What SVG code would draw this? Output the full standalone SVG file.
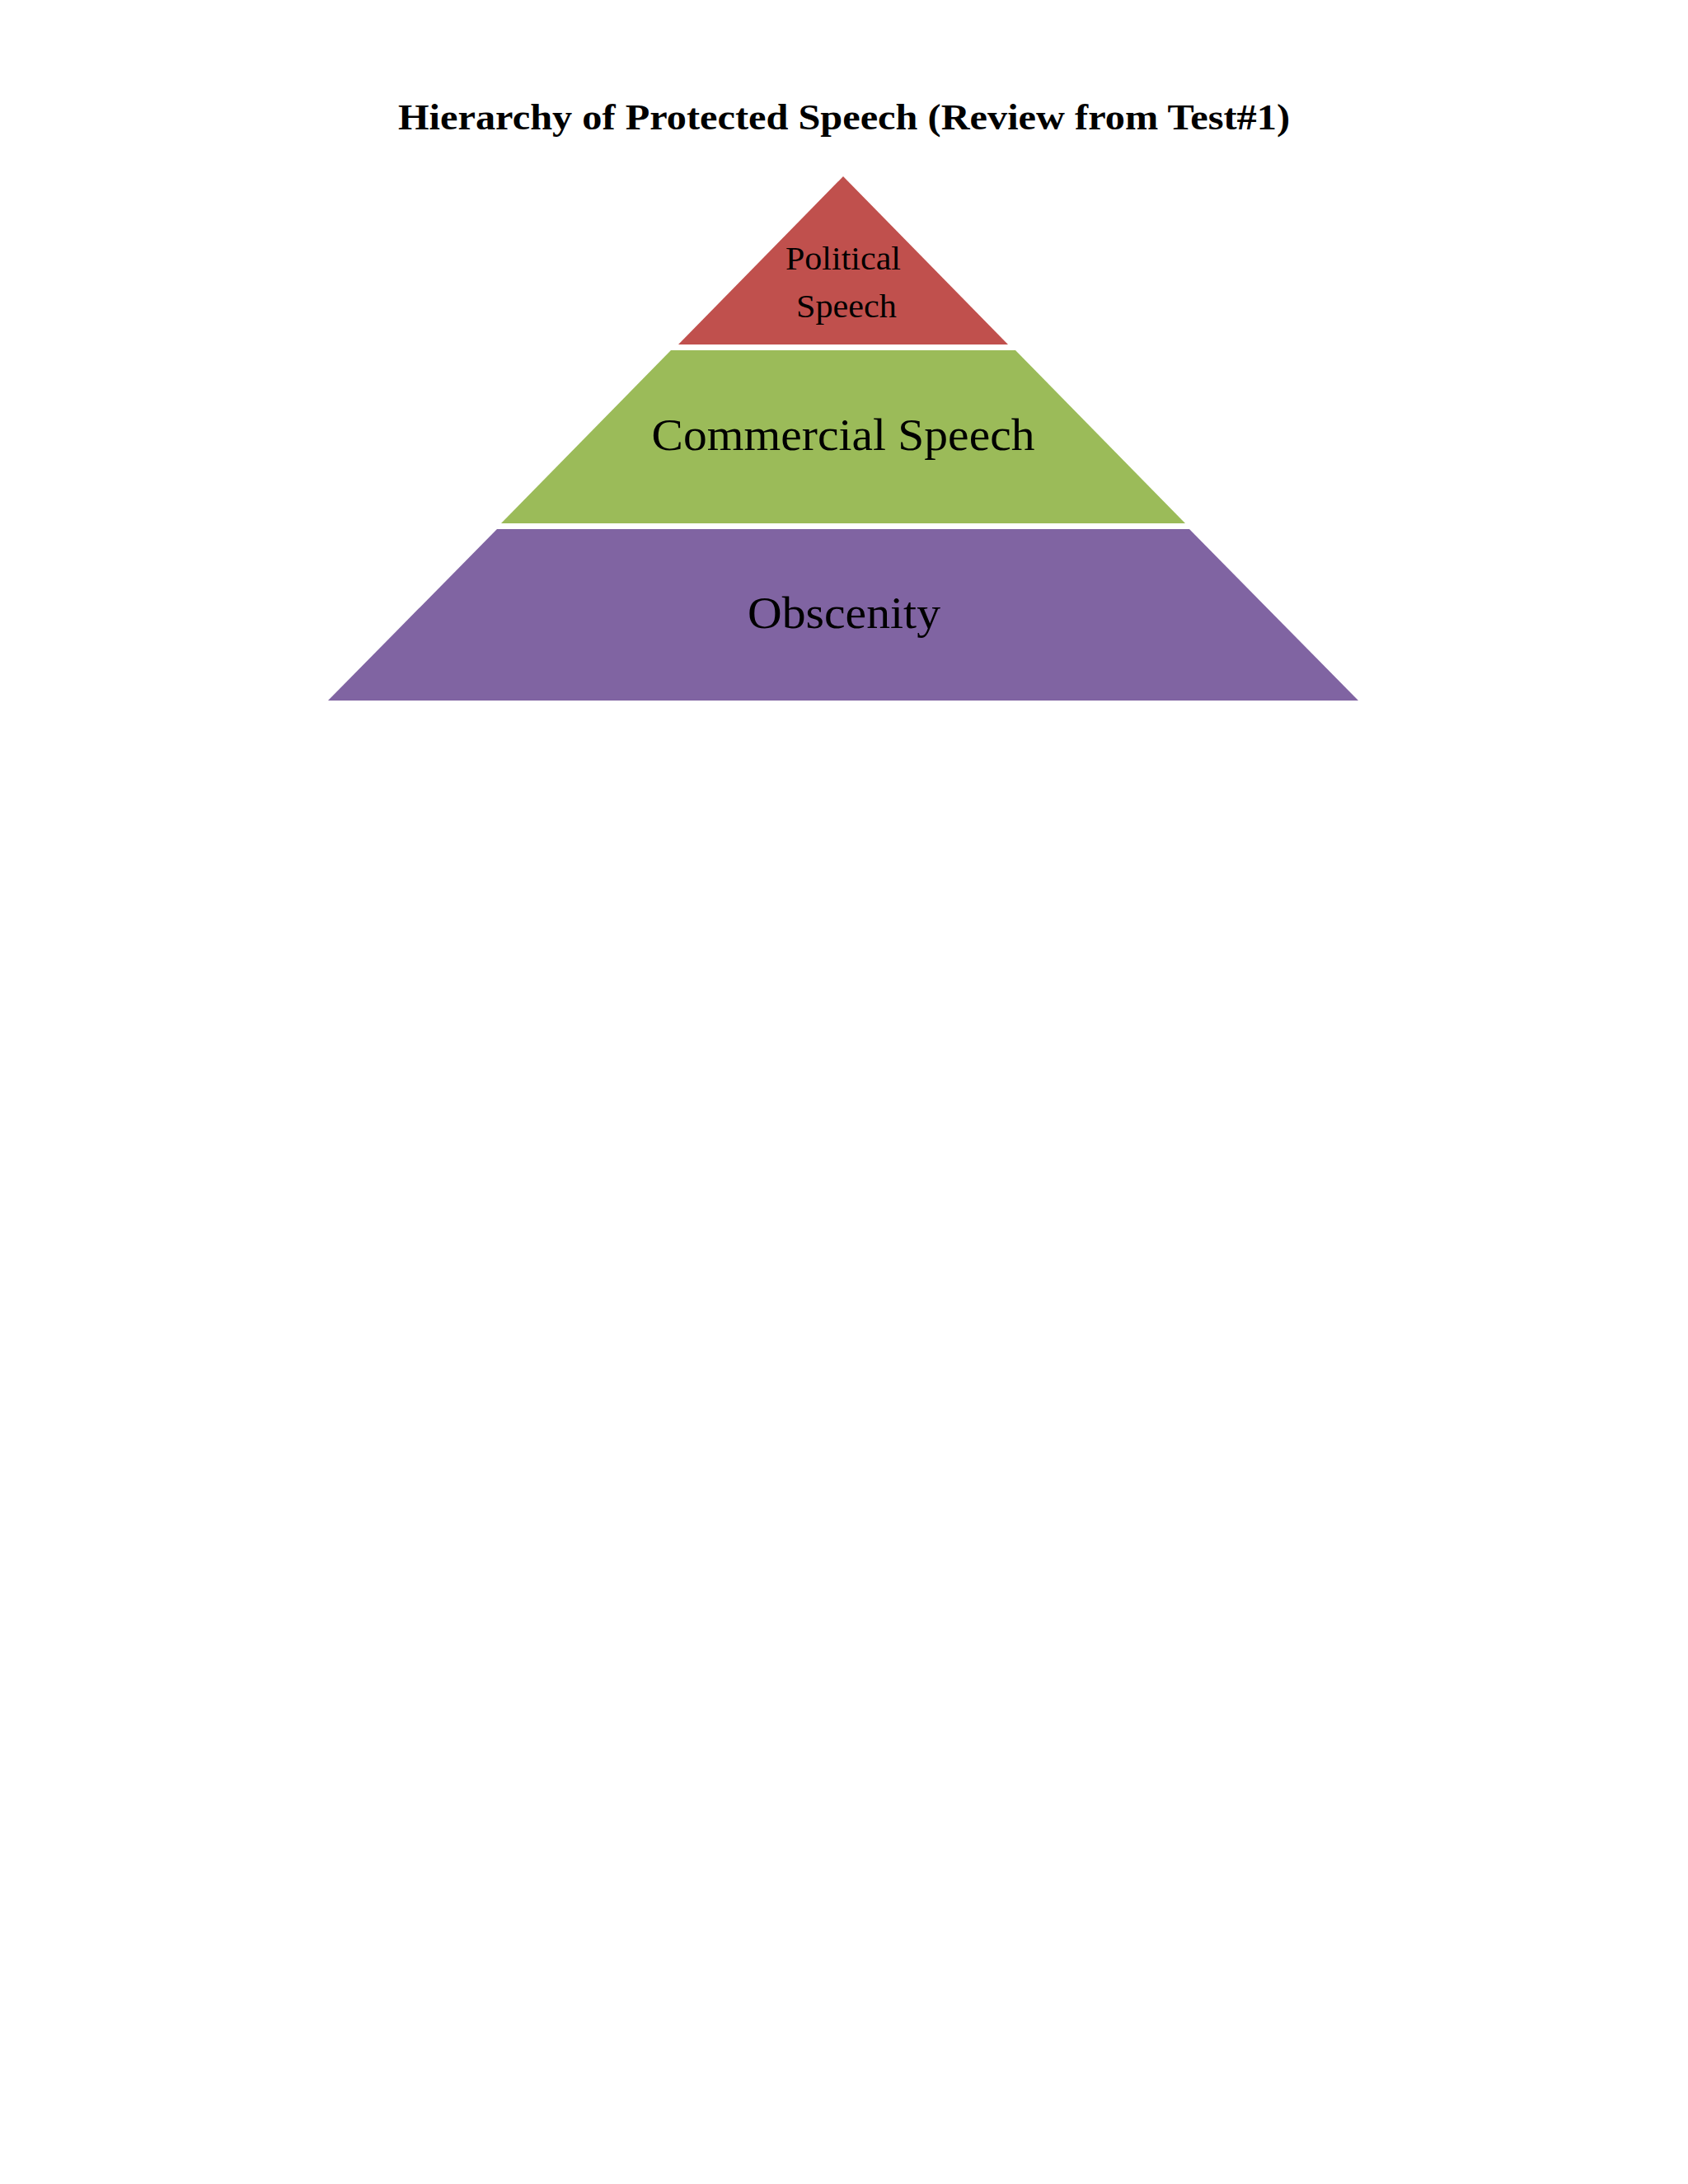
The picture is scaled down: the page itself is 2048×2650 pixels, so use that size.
<svg xmlns="http://www.w3.org/2000/svg" width="2048" height="2650" viewBox="0 0 2048 2650">
<style>
.lbl{font-family:"Liberation Serif","DejaVu Serif",serif;fill:#000;text-anchor:middle}
.title{font-family:"Liberation Serif","DejaVu Serif",serif;font-weight:bold;fill:#000;text-anchor:middle}
</style>
<rect width="2048" height="2650" fill="#fff"/>
<text class="title" x="1024" y="157" font-size="44" textLength="1082" lengthAdjust="spacingAndGlyphs">Hierarchy of Protected Speech (Review from Test#1)</text>
<g id="political">
<polygon points="1023,214 1223,418 823,418" fill="#C0504D"/>
<text class="lbl" x="1023" y="327" font-size="40" textLength="140" lengthAdjust="spacingAndGlyphs">Political</text>
<text class="lbl" x="1027" y="385" font-size="40" textLength="122" lengthAdjust="spacingAndGlyphs">Speech</text>
</g>
<g id="commercial">
<polygon points="814,425 1232,425 1438,635 608,635" fill="#9BBB59"/>
<text class="lbl" x="1023" y="546" font-size="55" textLength="465" lengthAdjust="spacingAndGlyphs">Commercial Speech</text>
</g>
<g id="obscenity">
<polygon points="603,642 1443,642 1648,850 398,850" fill="#8064A2"/>
<text class="lbl" x="1024" y="762" font-size="55" textLength="234" lengthAdjust="spacingAndGlyphs">Obscenity</text>
</g>
<g id="connectors"/>
</svg>
